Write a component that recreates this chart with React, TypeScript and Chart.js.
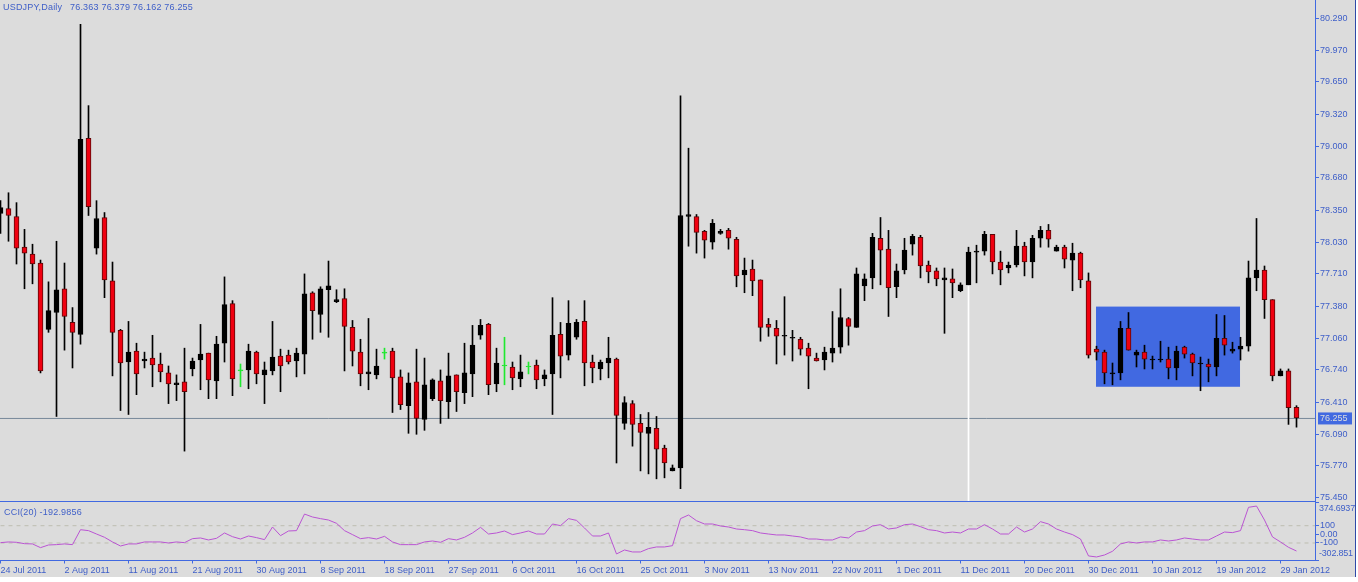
import { useEffect, useRef } from 'react';
import { Chart, registerables } from 'chart.js';

Chart.register(...registerables);

const opens = [
  78.32, 78.37, 78.29, 77.98, 77.91, 77.82, 77.15, 77.32, 77.56, 77.22,
  77.1, 79.08, 77.97, 78.28, 77.64, 77.14, 76.82, 76.93, 76.83, 76.86,
  76.8, 76.71, 76.59, 76.62, 76.75, 76.84, 76.91, 76.63, 77.01, 77.41,
  76.73, 76.74, 76.92, 76.69, 76.73, 76.88, 76.89, 76.83, 76.9, 77.52,
  77.3, 77.55, 77.43, 77.46, 77.17, 76.92, 76.7, 76.69, 76.91, 76.93,
  76.67, 76.38, 76.62, 76.24, 76.45, 76.63, 76.42, 76.69, 76.51, 76.7,
  77.09, 77.2, 76.6, 76.78, 76.77, 76.65, 76.77, 76.79, 76.65, 76.7,
  77.1, 76.89, 77.07, 77.23, 76.82, 76.75, 76.81, 76.85, 76.2, 76.4,
  76.2, 76.1, 76.15, 75.95, 75.72, 75.75, 78.29, 78.29, 78.14, 78.03,
  78.12, 78.15, 78.06, 77.7, 77.76, 77.65, 77.2, 77.16, 77.08, 77.06,
  77.05, 76.96, 76.86, 76.84, 76.91, 76.97, 77.26, 77.17, 77.59, 77.67,
  78.07, 77.96, 77.58, 77.75, 78.01, 78.08, 77.8, 77.74, 77.65, 77.66,
  77.54, 77.6, 77.93, 77.94, 78.11, 77.83, 77.77, 77.8, 77.99, 77.83,
  78.07, 78.15, 77.94, 77.98, 77.85, 77.92, 77.64, 76.95, 76.92, 76.7,
  76.71, 77.16, 76.89, 76.92, 76.84, 76.84, 76.85, 76.76, 76.97, 76.9,
  76.8, 76.8, 76.77, 77.06, 76.93, 76.95, 76.98, 77.67, 77.75, 77.45,
  76.68, 76.73, 76.363,
];
const highs = [
  78.45, 78.53, 78.43, 78.16, 78.01, 77.85, 77.63, 78.04, 77.82, 77.37,
  80.23, 79.41, 78.45, 78.33, 77.83, 77.15, 77.23, 77.01, 76.92, 77.09,
  76.91, 76.78, 76.69, 76.96, 76.86, 77.2, 76.91, 77.08, 77.68, 77.44,
  76.8, 77.0, 76.93, 76.82, 77.23, 76.95, 76.94, 76.96, 77.71, 77.53,
  77.58, 77.84, 77.55, 77.56, 77.24, 77.05, 77.26, 76.95, 76.96, 76.96,
  76.74, 76.71, 76.95, 76.86, 76.65, 76.74, 76.91, 76.69, 77.01, 77.19,
  77.25, 77.21, 76.96, 77.07, 76.82, 76.89, 76.82, 76.84, 76.74, 77.47,
  77.22, 77.44, 77.25, 77.44, 76.89, 76.84, 77.07, 76.86, 76.47, 76.43,
  76.29, 76.31, 76.27, 75.98, 75.78, 79.51, 78.98, 78.31, 78.15, 78.26,
  78.16, 78.17, 78.08, 77.87, 77.85, 77.65, 77.26, 77.24, 77.48, 77.14,
  77.07, 77.01, 76.91, 76.97, 77.33, 77.56, 77.27, 77.77, 77.71, 78.12,
  78.28, 78.15, 77.81, 78.07, 78.11, 78.1, 77.84, 77.77, 77.77, 77.76,
  77.62, 77.98, 78.0, 78.14, 78.11, 77.94, 77.83, 78.15, 78.03, 78.1,
  78.19, 78.21, 78.0, 78.0, 78.02, 77.93, 77.72, 76.98, 76.94, 76.81,
  77.23, 77.32, 76.94, 76.99, 76.88, 77.03, 76.97, 76.98, 76.98, 76.91,
  76.87, 76.85, 77.3, 77.29, 77.02, 77.07, 77.84, 78.27, 77.79, 77.45,
  76.75, 76.75, 76.379,
];
const lows = [
  78.12, 78.04, 77.81, 77.56, 77.61, 76.71, 77.12, 76.27, 76.94, 76.76,
  77.0, 78.3, 77.91, 77.47, 76.68, 76.33, 76.29, 76.49, 76.76, 76.57,
  76.62, 76.4, 76.43, 75.92, 76.68, 76.54, 76.45, 76.45, 76.82, 76.48,
  76.57, 76.55, 76.6, 76.4, 76.69, 76.52, 76.8, 76.67, 76.7, 77.05,
  77.12, 77.07, 77.42, 76.73, 76.78, 76.58, 76.54, 76.65, 76.85, 76.31,
  76.34, 76.1, 76.09, 76.13, 76.43, 76.2, 76.25, 76.32, 76.4, 76.47,
  77.05, 76.49, 76.52, 76.59, 76.54, 76.57, 76.7, 76.55, 76.58, 76.29,
  76.66, 76.84, 77.05, 76.58, 76.61, 76.64, 76.66, 75.8, 76.14, 75.97,
  75.72, 75.69, 75.64, 75.65, 75.72, 75.54, 77.99, 77.92, 77.87, 77.96,
  78.11, 77.96, 77.58, 77.52, 77.49, 77.03, 77.08, 76.8, 76.89, 76.83,
  76.89, 76.55, 76.83, 76.74, 76.82, 76.91, 76.99, 77.17, 77.44, 77.56,
  77.6, 77.28, 77.47, 77.71, 77.9, 77.67, 77.62, 77.59, 77.11, 77.47,
  77.53, 77.6, 77.62, 77.9, 77.71, 77.6, 77.72, 77.78, 77.69, 77.67,
  77.98, 77.98, 77.94, 77.77, 77.54, 77.57, 76.86, 76.84, 76.6, 76.59,
  76.64, 76.94, 76.77, 76.75, 76.75, 76.82, 76.65, 76.64, 76.86, 76.68,
  76.53, 76.62, 76.68, 76.89, 76.91, 76.84, 76.93, 77.54, 77.26, 76.63,
  76.68, 76.19, 76.162,
];
const closes = [
  78.38, 78.3, 77.97, 77.92, 77.81, 76.73, 77.34, 77.55, 77.28, 77.12,
  79.07, 78.39, 78.27, 77.65, 77.12, 76.81, 76.92, 76.7, 76.85, 76.79,
  76.72, 76.6, 76.61, 76.52, 76.83, 76.9, 76.64, 77.0, 77.4, 76.65,
  76.73, 76.93, 76.7, 76.74, 76.87, 76.78, 76.82, 76.91, 77.51, 77.34,
  77.56, 77.59, 77.45, 77.18, 76.93, 76.7, 76.72, 76.78, 76.91, 76.66,
  76.39, 76.61, 76.25, 76.59, 76.64, 76.43, 76.68, 76.52, 76.71, 76.99,
  77.19, 76.59, 76.81, 76.78, 76.66, 76.72, 76.77, 76.64, 76.69, 77.09,
  76.88, 77.21, 77.22, 76.81, 76.76, 76.82, 76.86, 76.28, 76.41, 76.19,
  76.11, 76.16, 75.94, 75.8, 75.75, 78.3, 78.31, 78.13, 78.05, 78.22,
  78.14, 78.07, 77.69, 77.75, 77.64, 77.17, 77.17, 77.08, 77.09, 77.07,
  76.95, 76.88, 76.83, 76.92, 76.96, 77.27, 77.18, 77.71, 77.66, 78.08,
  77.95, 77.57, 77.74, 77.95, 78.09, 77.79, 77.73, 77.66, 77.67, 77.62,
  77.6, 77.93, 77.94, 78.11, 77.83, 77.75, 77.8, 77.99, 77.83, 78.07,
  78.15, 78.06, 77.98, 77.86, 77.92, 77.65, 76.89, 76.92, 76.71, 76.71,
  77.16, 76.94, 76.92, 76.85, 76.85, 76.85, 76.76, 76.93, 76.9, 76.81,
  76.81, 76.77, 77.06, 76.99, 76.95, 76.98, 77.67, 77.75, 77.45, 76.68,
  76.73, 76.36, 76.255,
];
const cciValues = [
  -96, -88, -92, -108, -111, -154, -123, -119, -111, -119,
  54, 43, 4, -34, -88, -135, -111, -111, -88, -88,
  -88, -100, -88, -96, -50, -42, -65, -46, 16, -27,
  -54, -19, -38, -61, 85, -15, 39, 43, 235, 201,
  182, 166, 128, 43, -3, -50, -38, -54, -23, -88,
  -119, -119, -119, -88, -77, -92, -50, -65, -34, 16,
  81, 4, 16, 39, -3, 16, 39, 4, 4, 120,
  101, 182, 162, 74, -19, -19, 16, -227, -181, -204,
  -204, -165, -146, -146, -131, 182, 224, 158, 120, 120,
  97, 85, 62, 54, 43, 16, 4, -7, -7, -19,
  -30, -54, -54, -65, -65, -30, -42, 27, 43, 97,
  112, 62, 74, 112, 120, 89, 54, 43, 16, 27,
  16, 62, 62, 112, 62, 4, 4, 85, 27, 62,
  147, 120, 62, 27, -3, -54, -250, -262, -239, -196,
  -111, -88, -100, -88, -88, -65, -77, -65, -42, -54,
  -65, -65, -19, 27, 20, 43, 313, 328, 166, -30,
  -88, -150, -192.99,
];

const priceTicks = [
  80.29, 79.97, 79.65, 79.32, 79.0, 78.68, 78.35, 78.03, 77.71, 77.38, 77.06,
  76.74, 76.41, 76.09, 75.77, 75.45,
];
const cciTicks = [374.6937, 100, 0, -100, -302.851];
const cciLevels = [100, -100];
const dateIndexes = [
  0, 8, 16, 24, 32, 40, 48, 56, 64, 72, 80, 88, 96, 104, 112, 120, 128, 136,
  144, 152, 160,
];
const dateLabels = [
  '24 Jul 2011', '2 Aug 2011', '11 Aug 2011', '21 Aug 2011', '30 Aug 2011',
  '8 Sep 2011', '18 Sep 2011', '27 Sep 2011', '6 Oct 2011', '16 Oct 2011',
  '25 Oct 2011', '3 Nov 2011', '13 Nov 2011', '22 Nov 2011', '1 Dec 2011',
  '11 Dec 2011', '20 Dec 2011', '30 Dec 2011', '10 Jan 2012', '19 Jan 2012',
  '29 Jan 2012',
];

const bidLinePrice = 76.25;
const boxIndexes = [136.94, 154.94];
const boxPrices = [77.38, 76.57];
const whiteLineIndex = 121;
const whiteLinePrices = [75.4, 77.6];

const FONT = '9px "Liberation Sans"';
const BLUE = '#4169e1';
const TEXT = '#3f5fc8';
const GREEN = '#20e830';

const candleColor = (i: number, up: string, down: string) =>
  closes[i] > opens[i] ? up : closes[i] < opens[i] ? down : GREEN;

const overlays = {
  id: 'overlays',
  beforeDatasetsDraw(chart: any) {
    const { ctx, scales } = chart;
    const x0 = scales.x.getPixelForValue(boxIndexes[0]);
    const x1 = scales.x.getPixelForValue(boxIndexes[1]);
    const y0 = scales.y.getPixelForValue(boxPrices[0]);
    const y1 = scales.y.getPixelForValue(boxPrices[1]);
    ctx.save();
    ctx.fillStyle = BLUE;
    ctx.fillRect(x0, y0, x1 - x0, y1 - y0);
    ctx.restore();
  },
  afterDraw(chart: any) {
    const { ctx, scales, chartArea, width, height } = chart;
    ctx.save();
    ctx.font = FONT;
    ctx.textBaseline = 'middle';

    // panel separator
    ctx.fillStyle = BLUE;
    ctx.fillRect(0, scales.cci.top - 1, chartArea.right, 1);

    // window frame at the right and bottom of the screenshot
    ctx.fillStyle = '#ffffff';
    ctx.fillRect(0, height - 5, width, 5);
    ctx.fillRect(width - 2, 0, 2, height);
    ctx.fillStyle = '#2f4aa8';
    ctx.fillRect(width - 3, 0, 1, height - 5);

    ctx.fillStyle = TEXT;
    ctx.letterSpacing = '0.2px';
    ctx.fillText('USDJPY,Daily', 3, 7.5);
    ctx.fillText(
      `${opens[162].toFixed(3)} ${highs[162].toFixed(3)} ${lows[162].toFixed(3)} ${closes[162].toFixed(3)}`,
      70,
      7.5
    );
    ctx.fillText('CCI(20) -192.9856', 4, scales.cci.top + 10.5);

    // top and bottom cci labels sit inside the panel
    ctx.letterSpacing = '-0.2px';
    const labelX = chartArea.right + 4;
    ctx.fillText('374.6937', labelX, scales.cci.getPixelForValue(cciTicks[0]) + 7);
    ctx.fillText('-302.851', labelX, scales.cci.getPixelForValue(cciTicks[4]) - 7);
    ctx.letterSpacing = '0px';

    // current price box
    const bidY = scales.y.getPixelForValue(bidLinePrice);
    ctx.fillStyle = BLUE;
    ctx.fillRect(chartArea.right + 3, bidY - 6, 34, 12);
    ctx.fillStyle = '#dcdcdc';
    ctx.fillText(closes[162].toFixed(3), chartArea.right + 5, bidY + 0.5);
    ctx.restore();
  },
};

export default function App() {
  const canvasRef = useRef<HTMLCanvasElement | null>(null);

  useEffect(() => {
    document.body.style.margin = '0';
    if (canvasRef.current == null) return;

    const indexes = opens.map((_, i) => i);
    const chart = new Chart(canvasRef.current, {
      type: 'bar',
      plugins: [overlays],
      data: {
        datasets: [
          {
            type: 'line',
            order: 6,
            yAxisID: 'y',
            data: [
              { x: -1, y: bidLinePrice },
              { x: 170, y: bidLinePrice },
            ],
            borderColor: '#778899',
            borderWidth: 1,
            pointRadius: 0,
          },
          {
            order: 5,
            yAxisID: 'y',
            data: [{ x: whiteLineIndex, y: whiteLinePrices }],
            backgroundColor: '#ffffff',
            maxBarThickness: 1,
          },
          {
            order: 4,
            yAxisID: 'y',
            data: indexes.map((i) => ({ x: i, y: [lows[i], highs[i]] })),
            backgroundColor: indexes.map((i) => candleColor(i, '#000000', '#000000')),
            maxBarThickness: 1,
          },
          {
            order: 3,
            yAxisID: 'y',
            data: indexes.map((i) => ({ x: i, y: [opens[i], closes[i]] })),
            backgroundColor: indexes.map((i) => candleColor(i, '#000000', '#f00010')),
            borderColor: indexes.map((i) => candleColor(i, '#000000', '#5a0808')),
            borderWidth: 1,
            borderSkipped: false,
            minBarLength: 1,
            maxBarThickness: 5,
          },
          ...cciLevels.map((level) => ({
            type: 'line' as const,
            order: 2,
            yAxisID: 'cci',
            data: [
              { x: -1, y: level },
              { x: 170, y: level },
            ],
            borderColor: '#bdbdb0',
            borderWidth: 1,
            borderDash: [4, 4],
            pointRadius: 0,
          })),
          {
            type: 'line',
            order: 1,
            yAxisID: 'cci',
            data: indexes.map((i) => ({ x: i, y: cciValues[i] })),
            borderColor: '#ba55d3',
            borderWidth: 1,
            pointRadius: 0,
            tension: 0,
          },
        ],
      },
      options: {
        animation: false,
        responsive: false,
        devicePixelRatio: 1,
        grouped: false,
        categoryPercentage: 1,
        barPercentage: 1,
        layout: { padding: 0 },
        plugins: {
          legend: { display: false },
          title: { display: false },
          tooltip: { enabled: false },
        },
        scales: {
          x: {
            type: 'linear',
            offset: false,
            min: -0.0625,
            max: 164.3125,
            border: { color: BLUE },
            grid: { offset: false, color: BLUE, drawOnChartArea: false, tickLength: 3 },
            afterBuildTicks: (axis: any) => {
              axis.ticks = dateIndexes.map((value) => ({ value }));
            },
            afterFit: (axis: any) => {
              axis.height = 21.5;
              axis.paddingLeft = 0;
              axis.paddingRight = 0;
            },
            ticks: {
              autoSkip: false,
              maxRotation: 0,
              align: 'start',
              padding: 2,
              color: TEXT,
              font: { family: 'Liberation Sans', size: 9 },
              callback: (value: any) => dateLabels[dateIndexes.indexOf(value)],
            },
          },
          y: {
            type: 'linear',
            position: 'right',
            stack: 'panels',
            stackWeight: 502,
            min: 75.406,
            max: 80.477,
            border: { color: BLUE },
            grid: { color: BLUE, drawOnChartArea: false, tickLength: 4 },
            afterBuildTicks: (axis: any) => {
              axis.ticks = priceTicks.map((value) => ({ value }));
            },
            afterFit: (axis: any) => {
              axis.width = 43;
              axis.paddingTop = 0;
              axis.paddingBottom = 0;
            },
            ticks: {
              autoSkip: false,
              crossAlign: 'near',
              padding: 1,
              color: TEXT,
              font: { family: 'Liberation Sans', size: 9 },
              callback: (value: any) => Number(value).toFixed(3),
            },
          },
          cci: {
            type: 'linear',
            position: 'right',
            stack: 'panels',
            stackWeight: 58.5,
            min: cciTicks[4],
            max: cciTicks[0],
            border: { color: BLUE },
            grid: { color: BLUE, drawOnChartArea: false, tickLength: 4 },
            afterBuildTicks: (axis: any) => {
              axis.ticks = cciTicks.map((value) => ({ value }));
            },
            afterFit: (axis: any) => {
              axis.width = 43;
              axis.paddingTop = 0;
              axis.paddingBottom = 0;
            },
            ticks: {
              autoSkip: false,
              crossAlign: 'near',
              padding: 1,
              color: TEXT,
              font: { family: 'Liberation Sans', size: 9 },
              callback: (value: any) =>
                value === 100 || value === -100
                  ? String(value)
                  : value === 0
                    ? '0.00'
                    : '',
            },
          },
        },
      } as any,
    });

    return () => chart.destroy();
  }, []);

  return (
    <canvas
      ref={canvasRef}
      width={1358}
      height={582}
      style={{ display: 'block', background: '#dcdcdc' }}
    />
  );
}
